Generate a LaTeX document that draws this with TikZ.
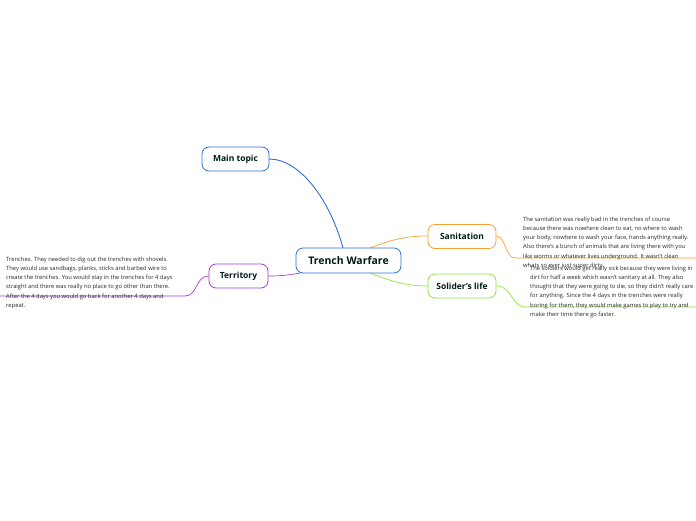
\documentclass[tikz,border=0pt]{standalone}
\usepackage{fontspec}
\setmainfont{Open Sans}
\begin{document}
\begin{tikzpicture}[x=1pt,y=-1pt,
 topic/.style={draw,rounded corners=7pt,line width=0.8pt,fill=white,text=black!80!teal,font=\bfseries\fontsize{8.5}{9}\selectfont,minimum height=24pt,inner xsep=0pt},
 note/.style={align=left,anchor=north west,inner sep=0pt,font=\fontsize{5.8}{9.1}\selectfont,text=black!85}]
\useasboundingbox (0,0) rectangle (696,520);
\definecolor{cb}{HTML}{2F6FD6}\definecolor{co}{HTML}{F5A031}\definecolor{cg}{HTML}{8EE53F}\definecolor{cp}{HTML}{A53CD6}
\draw[cb,line width=0.9pt] (343,248) .. controls (330,200) and (300,159) .. (269,159);
\draw[co,line width=0.7pt] (370,248) .. controls (395,238) and (410,236) .. (428,236);
\draw[cg,line width=0.7pt] (370,273) .. controls (395,283) and (410,286) .. (428,286);
\draw[cp,line width=0.7pt] (300,273) .. controls (285,276) and (275,276) .. (268,276);
\node[topic,draw=cb,minimum width=105pt,minimum height=25pt,font=\bfseries\fontsize{10.5}{11}\selectfont] (c) at (348.5,260.5) {Trench Warfare};
\node[topic,draw=cb,minimum width=67pt] (m) at (235.5,159) {Main topic};
\node[topic,draw=co,minimum width=68pt] (s) at (462,236.5) {Sanitation};
\node[topic,draw=cg,minimum width=68pt] (l) at (462,286) {Solider's life};
\node[topic,draw=cp,minimum width=59pt] (t) at (238.5,276) {Territory};
\coordinate (so) at (515,258); \coordinate (se) at (696,258);
\coordinate (lo) at (525,307); \coordinate (le) at (696,307);
\coordinate (to) at (185,296); \coordinate (te) at (0,296);
\draw[co,line width=0.7pt] (s.east) .. controls (506,236) and (505,258) .. (so) -- (se);
\draw[cg,line width=0.7pt] (l.east) .. controls (512,286) and (512,307) .. (lo) -- (le);
\draw[cp,line width=0.7pt] (t.west) .. controls (195,276) and (198,296) .. (to) -- (te);
\node[note] (ns) at (523,217) {The sanitation was really bad in the trenches of course\\because there was nowhere clean to eat, no where to wash\\your body, nowhere to wash your face, hands anything really.\\Also there's a bunch of animals that are living there with you\\like worms or whatever lives underground. It wasn't clean\\whats so ever just super dirty.};
\node[note] (nl) at (530,266) {The soldiers would get really sick because they were living in\\dirt for half a week which wasn't sanitary at all. They also\\thought that they were going to die, so they didn't really care\\for anything. Since the 4 days in the trenches were really\\boring for them, they would make games to play to try and\\make their time there go faster.};
\node[note] (nt) at (6,257) {Trenches. They needed to dig out the trenches with shovels.\\They would use sandbags, planks, sticks and barbed wire to\\create the trenches. You would stay in the trenches for 4 days\\straight and there was really no place to go other than there.\\After the 4 days you would go back for another 4 days and\\repeat.};
\end{tikzpicture}
\end{document}
